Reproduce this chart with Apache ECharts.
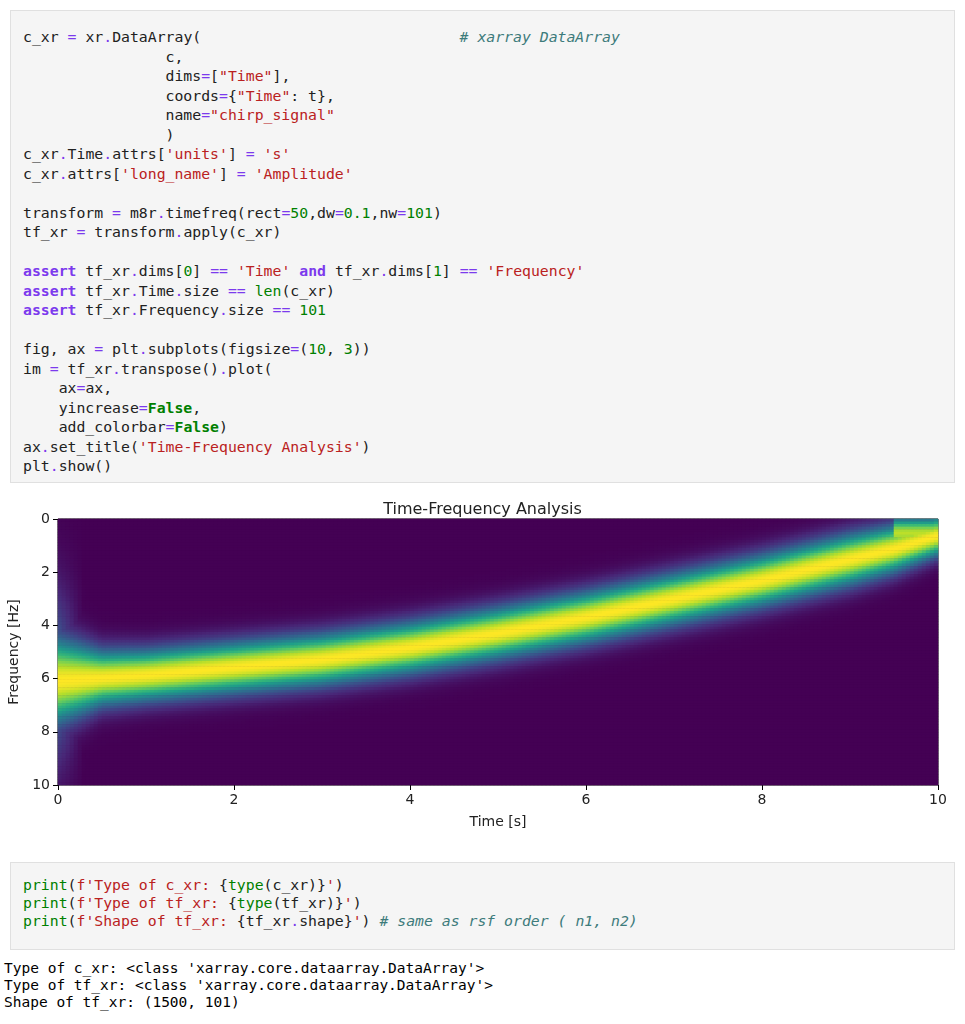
<!DOCTYPE html>
<html><head><meta charset="utf-8">
<script src="https://cdn.jsdelivr.net/npm/echarts@6/dist/echarts.min.js"></script>
<style>
body{margin:0;background:#fff;width:965px;height:1024px;position:relative;overflow:hidden;font-family:"DejaVu Sans Mono",monospace;}
.code{position:absolute;left:10px;width:945px;background:#f5f5f5;border:1px solid #e0e0e0;box-sizing:border-box;}
pre{margin:0;font-family:"DejaVu Sans Mono",monospace;color:#212121;}
.k{color:#7c3aed;font-weight:bold}.o{color:#7c3aed}.s{color:#ba2121}.n{color:#008000}.b{color:#008000;font-weight:bold}.c{color:#3d7b7b;font-style:italic}
#chart{position:absolute;left:0;top:490px;width:965px;height:360px;}
</style></head><body>
<div class="code" style="top:10px;height:473px;padding:16px 0 0 12px;">
<pre style="font-size:14.8px;line-height:19.5px;">c_xr <span class="o">=</span> xr<span class="o">.</span>DataArray(                             <span class="c"># xarray DataArray</span>
                c,
                dims<span class="o">=</span>[<span class="s">"Time"</span>],
                coords<span class="o">=</span>{<span class="s">"Time"</span>: t},
                name<span class="o">=</span><span class="s">"chirp_signal"</span>
                )
c_xr<span class="o">.</span>Time<span class="o">.</span>attrs[<span class="s">'units'</span>] <span class="o">=</span> <span class="s">'s'</span>
c_xr<span class="o">.</span>attrs[<span class="s">'long_name'</span>] <span class="o">=</span> <span class="s">'Amplitude'</span>

transform <span class="o">=</span> m8r<span class="o">.</span>timefreq(rect<span class="o">=</span><span class="n">50</span>,dw<span class="o">=</span><span class="n">0.1</span>,nw<span class="o">=</span><span class="n">101</span>)
tf_xr <span class="o">=</span> transform<span class="o">.</span>apply(c_xr)

<span class="k">assert</span> tf_xr<span class="o">.</span>dims[<span class="n">0</span>] <span class="o">==</span> <span class="s">'Time'</span> <span class="k">and</span> tf_xr<span class="o">.</span>dims[<span class="n">1</span>] <span class="o">==</span> <span class="s">'Frequency'</span>
<span class="k">assert</span> tf_xr<span class="o">.</span>Time<span class="o">.</span>size <span class="o">==</span> <span class="n">len</span>(c_xr)
<span class="k">assert</span> tf_xr<span class="o">.</span>Frequency<span class="o">.</span>size <span class="o">==</span> <span class="n">101</span>

fig, ax <span class="o">=</span> plt<span class="o">.</span>subplots(figsize<span class="o">=</span>(<span class="n">10</span>, <span class="n">3</span>))
im <span class="o">=</span> tf_xr<span class="o">.</span>transpose()<span class="o">.</span>plot(
    ax<span class="o">=</span>ax,
    yincrease<span class="o">=</span><span class="b">False</span>,
    add_colorbar<span class="o">=</span><span class="b">False</span>)
ax<span class="o">.</span>set_title(<span class="s">'Time-Frequency Analysis'</span>)
plt<span class="o">.</span>show()</pre></div>
<div id="chart"></div>
<div class="code" style="top:862px;height:88px;padding:13px 0 0 12px;">
<pre style="font-size:14.8px;line-height:18px;"><span class="n">print</span>(<span class="s">f'Type of c_xr: </span>{<span class="n">type</span>(c_xr)}<span class="s">'</span>)
<span class="n">print</span>(<span class="s">f'Type of tf_xr: </span>{<span class="n">type</span>(tf_xr)}<span class="s">'</span>)
<span class="n">print</span>(<span class="s">f'Shape of tf_xr: </span>{tf_xr<span class="o">.</span>shape}<span class="s">'</span>) <span class="c"># same as rsf order ( n1, n2)</span></pre></div>
<pre style="position:absolute;left:4px;top:960px;font-size:14.5px;line-height:17px;color:#000;">Type of c_xr: &lt;class 'xarray.core.dataarray.DataArray'&gt;
Type of tf_xr: &lt;class 'xarray.core.dataarray.DataArray'&gt;
Shape of tf_xr: (1500, 101)</pre>
<script>
// ridge centre
var ridgeTime = [0, 0.5, 1, 2, 3, 4, 5, 6, 7, 8, 9, 9.5, 10];
var ridgeFreq = [6.1, 6.0, 5.9, 5.6, 5.3, 4.85, 4.3, 3.7, 3.0, 2.3, 1.5, 1.1, 0.6];
var ridgeWidth = [1.1, 0.7, 0.65, 0.65, 0.65, 0.65, 0.65, 0.65, 0.65, 0.65, 0.65, 0.6, 0.5];
var xTicks = [0, 2, 4, 6, 8, 10];
var yTicks = [0, 2, 4, 6, 8, 10];
var NT = 220, NF = 101;
function interp(xs, ys, x){for(var i=0;i<xs.length-1;i++){if(x<=xs[i+1]){var r=(x-xs[i])/(xs[i+1]-xs[i]);return ys[i]+r*(ys[i+1]-ys[i]);}}return ys[ys.length-1];}
var tCats=[],fCats=[],data=[];
for(var i=0;i<NT;i++)tCats.push(i);
for(var j=0;j<NF;j++)fCats.push(j);
for(var i=0;i<NT;i++){var t=(i+0.5)*10/NT;var c=interp(ridgeTime,ridgeFreq,t);var w=interp(ridgeTime,ridgeWidth,t);
 for(var j=0;j<NF;j++){var f=j*0.1;var d=(f-c)/w;var v=Math.exp(-d*d/2);
  if(t<0.3){v=Math.max(v,0.35*Math.exp(-Math.pow((f-6)/2.2,2)/2)*(1-t/0.3));}
  if(t>9.5&&f<1.2){v=Math.max(v,0.9*Math.exp(-Math.pow((f-0.5)/0.4,2)/2));}
  data.push([i,j,v]);}}
var ch=echarts.init(document.getElementById('chart'));
ch.setOption({animation:false,
 title:{text:'Time-Frequency Analysis',left:'center',top:7,textStyle:{fontFamily:'DejaVu Sans',fontSize:16,fontWeight:'normal',color:'#222'}},
 grid:{left:58,right:27,top:29,height:266,outerBoundsMode:'none',containLabel:false,show:true,borderColor:'#000',borderWidth:1,backgroundColor:'#440154'},
 xAxis:[{type:'category',data:tCats,show:false},{type:'value',min:0,max:10,interval:2,position:'bottom',name:'Time [s]',nameLocation:'middle',nameGap:30,nameTextStyle:{fontFamily:'DejaVu Sans',fontSize:14,color:'#222'},axisLine:{show:false},axisTick:{show:true,lineStyle:{color:'#000'}},axisLabel:{fontFamily:'DejaVu Sans',fontSize:14,color:'#222'},splitLine:{show:false}}],
 yAxis:[{type:'category',data:fCats,inverse:true,show:false},{type:'value',position:'left',min:0,max:10,interval:2,inverse:true,name:'Frequency [Hz]',nameLocation:'middle',nameGap:34,nameTextStyle:{fontFamily:'DejaVu Sans',fontSize:14,color:'#222'},axisLine:{show:false},axisTick:{show:true,lineStyle:{color:'#000'}},axisLabel:{fontFamily:'DejaVu Sans',fontSize:14,color:'#222'},splitLine:{show:false}}],
 visualMap:{show:false,min:0,max:1,dimension:2,inRange:{color:['#440154','#482878','#3e4989','#31688e','#26828e','#1f9e89','#35b779','#6ece58','#b5de2b','#fde725']}},
 series:[{type:'heatmap',xAxisIndex:0,yAxisIndex:0,data:data,progressive:0}]
});
</script></body></html>
